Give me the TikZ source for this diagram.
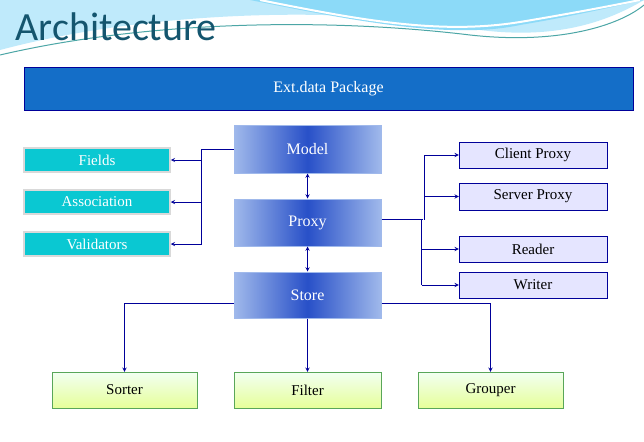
\documentclass[tikz,border=0pt]{standalone}
\usepackage{fontspec}
\setmainfont{Liberation Serif}
\newfontfamily\titlefont{Carlito}
\definecolor{banner}{RGB}{20,110,200}
\definecolor{cyb}{RGB}{10,200,210}
\definecolor{midc}{RGB}{40,80,200}
\definecolor{edgec}{RGB}{160,185,235}
\definecolor{ttl}{RGB}{20,85,110}
\begin{document}
\begin{tikzpicture}[x=1pt,y=-1pt,
  mid/.style={draw=edgec,line width=1pt,left color=edgec,right color=edgec,middle color=midc,text=white,font=\fontsize{16}{18}\selectfont},
  cy/.style={draw=gray!30,line width=1.5pt,fill=cyb,text=white,font=\fontsize{15}{17}\selectfont},
  rt/.style={draw=blue!60!black,fill=blue!10,text=black,font=\fontsize{15}{17}\selectfont},
  gr/.style={draw=gray!70!green,top color=green!5!white,bottom color=green!25!yellow!40!white,text=black,font=\fontsize{15}{17}\selectfont},
  ln/.style={draw=blue!60!black,line width=0.9pt},
  ar/.style={ln,->,>=stealth}]
\useasboundingbox (0,0) rectangle (644,441);
\fill[white] (0,0) rectangle (644,441);
% decorative waves
\fill[cyan!25] (0,50) .. controls (150,10) and (350,5) .. (480,30) .. controls (560,40) and (610,20) .. (644,0) -- (0,0) -- cycle;
\fill[cyan!45] (250,0) .. controls (350,20) and (450,40) .. (520,25) .. controls (580,15) and (620,5) .. (644,0) -- cycle;
\draw[teal!70,line width=1pt] (0,55) .. controls (150,20) and (330,18) .. (470,35) .. controls (560,45) and (620,25) .. (644,5);
\draw[white,line width=2pt] (260,0) .. controls (360,20) and (440,35) .. (520,22) .. controls (580,12) and (620,4) .. (640,0);
\node[anchor=west,text=ttl,font=\titlefont\fontsize{40}{42}\selectfont] (title) at (12,27) {Architecture};
% banner
\node[draw=blue!60!black,fill=banner,minimum width=609pt,minimum height=43pt,text=white,font=\fontsize{16}{18}\selectfont] (pkg) at (328.5,88.5) {Ext.data Package};
% middle
\node[mid,minimum width=147pt,minimum height=48pt] (model) at (307.5,149) {Model};
\node[mid,minimum width=147pt,minimum height=47pt] (proxy) at (307.5,222.5) {Proxy};
\node[mid,minimum width=147pt,minimum height=46pt] (store) at (307.5,295) {Store};
% left
\node[cy,minimum width=146pt,minimum height=24pt] (fields) at (97,160) {Fields};
\node[cy,minimum width=146pt,minimum height=24pt] (assoc) at (97,202) {Association};
\node[cy,minimum width=146pt,minimum height=24pt] (valid) at (97,244) {Validators};
% right
\node[rt,minimum width=148pt,minimum height=26pt] (client) at (533,155) {Client Proxy};
\node[rt,minimum width=148pt,minimum height=27pt] (server) at (533,196.5) {Server Proxy};
\node[rt,minimum width=148pt,minimum height=26pt] (reader) at (533,249) {Reader};
\node[rt,minimum width=148pt,minimum height=26pt] (writer) at (533,285) {Writer};
% bottom
\node[gr,minimum width=145pt,minimum height=36pt] (sorter) at (124.5,390) {Sorter};
\node[gr,minimum width=147pt,minimum height=36pt] (filter) at (307.5,390) {Filter};
\node[gr,minimum width=145pt,minimum height=36pt] (grouper) at (490.5,390) {Grouper};
% connectors
\draw[<->,>=stealth,ln] (model) -- (proxy);
\draw[<->,>=stealth,ln] (proxy) -- (store);
\draw[ln] (model.west) -- ++(-32,0) coordinate (lb) -- (lb |- valid);
\draw[ar] (lb |- fields) -- (fields);
\draw[ar] (lb |- assoc) -- (assoc);
\draw[ar] (lb |- valid) -- (valid);
\draw[ln] (proxy.east) ++(0,-3) coordinate (pe) -- ++(41,0) coordinate (rb);
\draw[ln] (rb) ++(2,0) coordinate (rb2) -- (rb2 |- client);
\draw[ln] (rb) ++(-1,0) coordinate (rb3) -- (rb3 |- writer);
\draw[ar] (rb2 |- client) -- (client);
\draw[ar] (rb2 |- server) -- (server);
\draw[ar] (rb3 |- reader) -- (reader);
\draw[ar] (rb3 |- writer) -- (writer);
\draw[ln] (store.west) ++(0,8) coordinate (sw) -- (sw -| sorter) coordinate (sl);
\draw[ln] (store.east) ++(0,8) coordinate (se) -- (se -| grouper) coordinate (sr);
\draw[ar] (sl) -- (sorter);
\draw[ar] (sr) -- (grouper);
\draw[ar] (store) -- (filter);
\end{tikzpicture}
\end{document}
